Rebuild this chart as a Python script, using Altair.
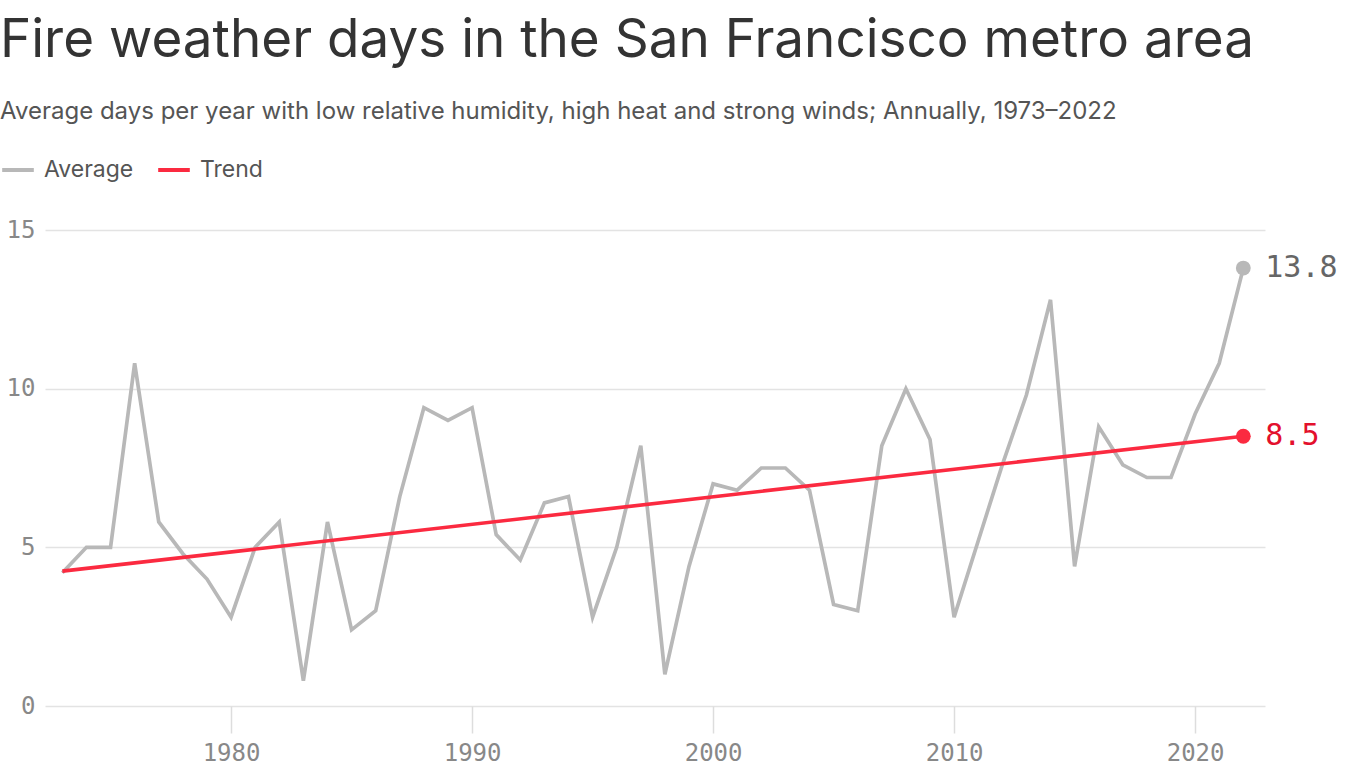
import altair as alt
import pandas as pd

# Annual average fire weather days, San Francisco metro area
years = list(range(1973, 2023))
avg_days = [4.2, 5.0, 5.0, 10.8, 5.8, 4.8, 4.0, 2.8, 5.0, 5.8,
            0.8, 5.8, 2.4, 3.0, 6.6, 9.4, 9.0, 9.4, 5.4, 4.6,
            6.4, 6.6, 2.8, 5.0, 8.2, 1.0, 4.4, 7.0, 6.8, 7.5,
            7.5, 6.8, 3.2, 3.0, 8.2, 10.0, 8.4, 2.8, 5.2, 7.6,
            9.8, 12.8, 4.4, 8.8, 7.6, 7.2, 7.2, 9.2, 10.8, 13.8]

# Linear trend endpoints
trend_years = [1973, 2022]
trend_days = [4.25, 8.5]

series_names = ["Average", "Trend"]
series_colors = ["#b8b8b8", "#fb2a40"]
label_colors = ["#666666", "#e3102d"]

x_ticks = [1980, 1990, 2000, 2010, 2020]
y_ticks = [0, 5, 10, 15]

df = pd.concat([
    pd.DataFrame({"year": years, "days": avg_days, "series": "Average"}),
    pd.DataFrame({"year": trend_years, "days": trend_days, "series": "Trend"}),
])
ends = df.groupby("series", as_index=False).last()

MONO = "DejaVu Sans Mono"
SANS = "Inter"

x = alt.X("year:Q", scale=alt.Scale(domain=[1972.28, 2022.9], nice=False, zero=False),
          axis=alt.Axis(values=x_ticks, format="d", grid=False, domain=False,
                        ticks=True, tickSize=27, tickColor="#dddddd", tickWidth=1.5,
                        labelPadding=8, labelFont=MONO, labelFontSize=24,
                        labelColor="#888888", title=None))
y = alt.Y("days:Q", scale=alt.Scale(domain=[0, 15], nice=False),
          axis=alt.Axis(values=y_ticks, grid=True, gridColor="#e3e3e3", gridWidth=1.5,
                        domain=False, ticks=False, labelPadding=10, labelFont=MONO,
                        labelFontSize=24, labelColor="#888888", title=None))
color = alt.Color("series:N", scale=alt.Scale(domain=series_names, range=series_colors),
                  legend=alt.Legend(title=None, orient="none", legendX=-45, legendY=-78,
                                    direction="horizontal", symbolType="stroke",
                                    symbolStrokeWidth=4, symbolSize=1000,
                                    labelFont=SANS, labelFontSize=23, labelColor="#555555",
                                    labelOffset=8, columnPadding=16))

lines = alt.Chart(df).mark_line(strokeWidth=3.7).encode(x=x, y=y, color=color)

points = alt.Chart(ends).mark_point(filled=True, size=220, opacity=1).encode(
    x="year:Q", y="days:Q", color=alt.Color("series:N", legend=None))

labels = [
    alt.Chart(ends).transform_filter(alt.datum.series == name).mark_text(
        align="left", baseline="middle", dx=22, font=MONO, fontSize=30, color=c
    ).encode(x="year:Q", y="days:Q", text=alt.Text("days:Q", format=".1f"))
    for name, c in zip(series_names, label_colors)
]

chart = alt.layer(lines, points, *labels).properties(
    width=1220, height=476,
    autosize=alt.AutoSizeParams(type="none"),
    padding={"left": 45, "top": 230, "right": 101, "bottom": 62},
    title=alt.Title(
        text="Fire weather days in the San Francisco metro area",
        subtitle="Average days per year with low relative humidity, high heat and strong winds; Annually, 1973\u20132022",
        anchor="start", frame="group", dx=-45, offset=28,
        font=SANS, fontSize=53, fontWeight=400, color="#333333",
        subtitleFont=SANS, subtitleFontSize=24, subtitleColor="#555555",
        subtitlePadding=32,
    ),
).configure_view(stroke=None)

chart.save("out.html", embed_options={"renderer": "svg", "actions": False})
